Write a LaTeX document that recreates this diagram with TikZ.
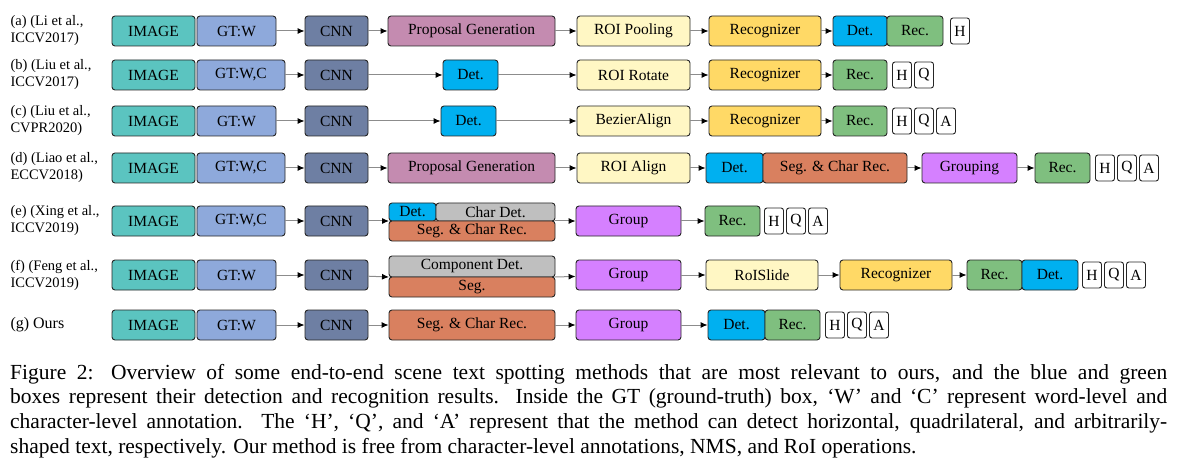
\documentclass[tikz,border=0pt]{standalone}
\usepackage{fontspec}
\setmainfont{Liberation Serif}
\usetikzlibrary{arrows.meta}
\definecolor{cimg}{HTML}{5BC4C0}
\definecolor{cgt}{HTML}{8EA9DB}
\definecolor{ccnn}{HTML}{6E7FA3}
\definecolor{cprop}{HTML}{C48BB0}
\definecolor{croi}{HTML}{FFF7C4}
\definecolor{crecog}{HTML}{FFD966}
\definecolor{cdet}{HTML}{00B0F0}
\definecolor{crec}{HTML}{7FBF7F}
\definecolor{cseg}{HTML}{D9805F}
\definecolor{cgrp}{HTML}{D580FF}
\definecolor{cchar}{HTML}{BFBFBF}
\tikzset{
 box/.style={draw=black!85, line width=0.9pt, rounded corners=3pt, inner sep=0pt, font=\fontsize{15.5}{16}\selectfont},
 tag/.style={draw=black!85, line width=0.9pt, rounded corners=2.5pt, inner sep=0pt, fill=white, minimum width=19pt, minimum height=26pt, font=\fontsize{15.5}{16}\selectfont},
 arr/.style={draw=black!45, line width=1pt, -{Latex[black,length=7pt,width=6pt]}},
 lab/.style={anchor=west, align=left, font=\fontsize{14.5}{17}\selectfont},
}
\newcommand{\bx}[7][30]{\node[box, fill=#6, minimum width={#4pt-#3pt}, minimum height=#1pt] (#2) at ({(#3+#4)/2},#5) {#7};}
\begin{document}
\begin{tikzpicture}[x=1pt,y=-1pt]
\useasboundingbox (0,0) rectangle (1179,476);
% row a
\node[lab] (la) at (7,31) {(a) (Li et al.,\\ICCV2017)};
\bx{ai}{112}{195}{31}{cimg}{IMAGE}
\bx{ag}{197}{276}{31}{cgt}{GT:W}
\bx{ac}{305}{368}{31}{ccnn}{CNN}
\bx{ap}{388}{555}{31}{cprop}{Proposal Generation}
\bx{ar}{577}{690}{31}{croi}{ROI Pooling}
\bx{ag2}{709}{821}{31}{crecog}{Recognizer}
\bx{ad}{833}{887}{31}{cdet}{Det.}
\bx{ae}{887}{943}{31}{crec}{Rec.}
\node[tag] (ah) at (960,31) {H};
\draw[arr] (ag) -- (ac); \draw[arr] (ac) -- (ap); \draw[arr] (ap) -- (ar); \draw[arr] (ar) -- (ag2); \draw[arr] (ag2) -- (ad);
% row b
\node[lab] (lb) at (7,75) {(b) (Liu et al.,\\ICCV2017)};
\bx{bi}{112}{195}{75}{cimg}{IMAGE}
\bx{bg}{197}{285}{75}{cgt}{GT:W,C}
\bx{bc}{305}{368}{75}{ccnn}{CNN}
\bx{bd}{443}{498}{75}{cdet}{Det.}
\bx{br}{577}{690}{75}{croi}{ROI Rotate}
\bx{bg2}{709}{821}{75}{crecog}{Recognizer}
\bx{be}{833}{887}{75}{crec}{Rec.}
\node[tag] (bh) at (902,75) {H};
\node[tag] (bq) at (924,75) {Q};
\draw[arr] (bg) -- (bc); \draw[arr] (bc) -- (bd); \draw[arr] (bd) -- (br); \draw[arr] (br) -- (bg2); \draw[arr] (bg2) -- (be);
% row c
\node[lab] (lc) at (7,121) {(c) (Liu et al.,\\CVPR2020)};
\bx{ci}{112}{195}{121}{cimg}{IMAGE}
\bx{cg}{197}{276}{121}{cgt}{GT:W}
\bx{cc}{305}{368}{121}{ccnn}{CNN}
\bx{cd}{441}{496}{121}{cdet}{Det.}
\bx{cr}{577}{690}{121}{croi}{BezierAlign}
\bx{cg2}{709}{821}{121}{crecog}{Recognizer}
\bx{ce}{833}{887}{121}{crec}{Rec.}
\node[tag] (ch) at (902,121) {H};
\node[tag] (cq) at (924,121) {Q};
\node[tag] (ca) at (946,121) {A};
\draw[arr] (cg) -- (cc); \draw[arr] (cc) -- (cd); \draw[arr] (cd) -- (cr); \draw[arr] (cr) -- (cg2); \draw[arr] (cg2) -- (ce);
% row d
\node[lab] (ld) at (7,168) {(d) (Liao et al.,\\ECCV2018)};
\bx{di}{112}{195}{168}{cimg}{IMAGE}
\bx{dg}{197}{285}{168}{cgt}{GT:W,C}
\bx{dc}{305}{368}{168}{ccnn}{CNN}
\bx{dp}{388}{555}{168}{cprop}{Proposal Generation}
\bx{dr}{577}{690}{168}{croi}{ROI Align}
\bx{dd}{706}{763}{168}{cdet}{Det.}
\bx{ds}{763}{907}{168}{cseg}{Seg. \& Char Rec.}
\bx{dgr}{922}{1017}{168}{cgrp}{Grouping}
\bx{de}{1035}{1090}{168}{crec}{Rec.}
\node[tag] (dh) at (1105,168) {H};
\node[tag] (dq) at (1127,168) {Q};
\node[tag] (da) at (1149,168) {A};
\draw[arr] (dg) -- (dc); \draw[arr] (dc) -- (dp); \draw[arr] (dp) -- (dr); \draw[arr] (dr) -- (dd); \draw[arr] (ds) -- (dgr); \draw[arr] (dgr) -- (de);
% row e
\node[lab] (le) at (7,221) {(e) (Xing et al.,\\ICCV2019)};
\bx{ei}{112}{195}{221}{cimg}{IMAGE}
\bx{eg}{197}{285}{221}{cgt}{GT:W,C}
\bx{ec}{305}{368}{221}{ccnn}{CNN}
\bx[18]{ed}{389}{436}{212}{cdet}{Det.}
\bx[18]{ech}{436}{555}{212}{cchar}{Char Det.}
\bx[20]{es}{389}{555}{231}{cseg}{Seg. \& Char Rec.}
\coordinate (ein) at (389,221);
\coordinate (eout) at (555,221);
\bx{egr}{576}{681}{221}{cgrp}{Group}
\bx{ee}{705}{760}{221}{crec}{Rec.}
\node[tag] (eh) at (774,221) {H};
\node[tag] (eq) at (796,221) {Q};
\node[tag] (ea) at (818,221) {A};
\draw[arr] (eg) -- (ec); \draw[arr] (ec) -- (ein); \draw[arr] (eout) -- (egr); \draw[arr] (egr) -- (ee);
% row f
\node[lab] (lf) at (7,275) {(f) (Feng et al.,\\ICCV2019)};
\bx{fi}{112}{195}{275}{cimg}{IMAGE}
\bx{fg}{197}{276}{275}{cgt}{GT:W}
\bx{fc}{305}{368}{275}{ccnn}{CNN}
\bx[21]{fcd}{389}{555}{266.5}{cchar}{Component Det.}
\bx[20]{fs}{389}{555}{287}{cseg}{Seg.}
\coordinate (fin) at (389,277);
\coordinate (fout) at (555,277);
\bx{fgr}{576}{681}{275}{cgrp}{Group}
\bx{fr}{706}{818}{275}{croi}{RoISlide}
\bx{fg2}{840}{952}{275}{crecog}{Recognizer}
\bx{fe}{967}{1022}{275}{crec}{Rec.}
\bx{fd}{1022}{1078}{275}{cdet}{Det.}
\node[tag] (fh) at (1092,275) {H};
\node[tag] (fq) at (1114,275) {Q};
\node[tag] (fa) at (1136,275) {A};
\draw[arr] (fg) -- (fc); \draw[arr] (fc) -- (fin); \draw[arr] (fout) -- (fgr); \draw[arr] (fgr) -- (fr); \draw[arr] (fr) -- (fg2); \draw[arr] (fg2) -- (fe);
% row g
\node[lab, font=\fontsize{16}{17}\selectfont] (lg) at (7,325) {(g) Ours};
\bx{gi}{112}{195}{325}{cimg}{IMAGE}
\bx{gg}{197}{276}{325}{cgt}{GT:W}
\bx{gc}{305}{368}{325}{ccnn}{CNN}
\bx{gs}{389}{555}{325}{cseg}{Seg. \& Char Rec.}
\bx{ggr}{576}{681}{325}{cgrp}{Group}
\bx{gd}{708}{765}{325}{cdet}{Det.}
\bx{ge}{765}{820}{325}{crec}{Rec.}
\node[tag] (gh) at (835,325) {H};
\node[tag] (gq) at (857,325) {Q};
\node[tag] (ga) at (879,325) {A};
\draw[arr] (gg) -- (gc); \draw[arr] (gc) -- (gs); \draw[arr] (gs) -- (ggr); \draw[arr] (ggr) -- (gd);
% caption
\node[anchor=north west, inner sep=0pt, text width=1157pt, align=justify, font=\fontsize{21.5}{24.6}\selectfont] (cap) at (10,364) {Figure 2: Overview of some end-to-end scene text spotting methods that are most relevant to ours, and the blue and green\linebreak boxes represent their detection and recognition results. Inside the GT (ground-truth) box, `W' and `C' represent word-level and\linebreak character-level annotation. The `H', `Q', and `A' represent that the method can detect horizontal, quadrilateral, and arbitrarily-\linebreak shaped text, respectively. Our method is free from character-level annotations, NMS, and RoI operations.};
\end{tikzpicture}
\end{document}
